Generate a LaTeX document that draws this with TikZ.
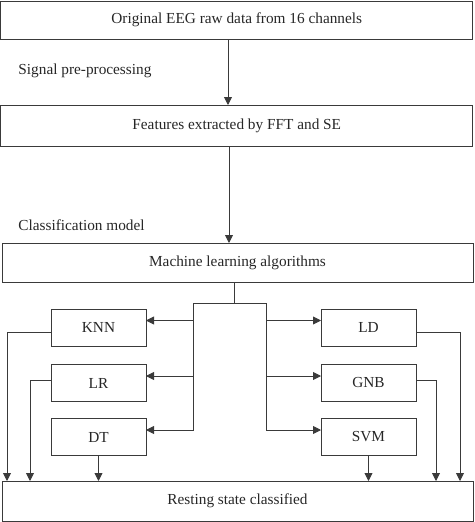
\documentclass[tikz,border=0pt]{standalone}
\usepackage{fontspec}
\setmainfont{Liberation Serif}
\usepackage{tikz}
\usetikzlibrary{positioning}
\usetikzlibrary{arrows.meta}
\definecolor{ln}{HTML}{3A3A3A}
\tikzset{box/.style={rectangle,draw=ln,align=center,inner sep=0pt,outer sep=0pt,minimum width=95pt,minimum height=37pt}}
\tikzset{wide/.style={box,minimum width=472pt,minimum height=39pt}}
\tikzset{arr/.style={-{Triangle[length=8pt,width=8pt]}}}

\begin{document}
\begin{tikzpicture}[x=1pt,y=-1pt,line width=0.9pt,font=\fontsize{15.3}{18}\selectfont,text=black!85]
	\useasboundingbox (0,0) rectangle (474,522);

	% main chain
	\node[wide,minimum height=38pt] (raw) at (236.75,20) {Original EEG raw data from 16 channels};
	\node[wide,minimum height=41pt] (feat) at (236.75,125.5) {Features extracted by FFT and SE};
	\node[wide,minimum width=471pt] (ml) at (237.5,262.5) {Machine learning algorithms};
	\node[wide,minimum width=471pt,minimum height=40pt] (rest) at (237.5,501) {Resting state classified};

	\node[anchor=west,inner sep=0pt] (pre) at (18,71) {Signal pre-processing};
	\node[anchor=west,inner sep=0pt] (cls) at (18,225) {Classification model};

	% classifiers
	\foreach \name/\txt/\x/\y in {knn/KNN/98.5/327.5, lr/LR/98.5/383, dt/DT/98.5/437,
	                             ld/LD/368.5/327.5, gnb/GNB/368.5/383, svm/SVM/368.5/437}{
		\node[box] (\name) at (\x,\y) {\txt};
	}

	\coordinate (a1) at (228,0);
	\coordinate (a2) at (229,0);
	\coordinate (fm) at (234,303);
	\coordinate (fl) at (193,303);
	\coordinate (fr) at (266,303);
	\coordinate (c1) at (7,0);
	\coordinate (c2) at (30,0);
	\coordinate (c5) at (436,0);
	\coordinate (c6) at (460,0);

	\begin{scope}[draw=ln]
	\draw[arr] (raw.south -| a1) -- (feat.north -| a1);
	\draw[arr] (feat.south -| a2) -- (ml.north -| a2);

	\draw (ml.south -| fm) -- (fm);
	\draw (fl) -- (fr);
	\foreach \name in {knn,lr,dt}
		\draw[arr] (fl) |- ([yshift=7pt]\name.east);
	\foreach \name in {ld,gnb,svm}
		\draw[arr] (fr) |- ([yshift=7pt]\name.west);

	\draw[arr] ([yshift=-4.5pt]knn.west) -| (rest.north -| c1);
	\draw[arr] ([yshift=3pt]lr.west) -| (rest.north -| c2);
	\draw[arr] (dt.south) -- (dt.south |- rest.north);
	\draw[arr] (svm.south) -- (svm.south |- rest.north);
	\draw[arr] ([yshift=3pt]gnb.east) -| (rest.north -| c5);
	\draw[arr] ([yshift=-4.5pt]ld.east) -| (rest.north -| c6);
	\end{scope}
\end{tikzpicture}
\end{document}
